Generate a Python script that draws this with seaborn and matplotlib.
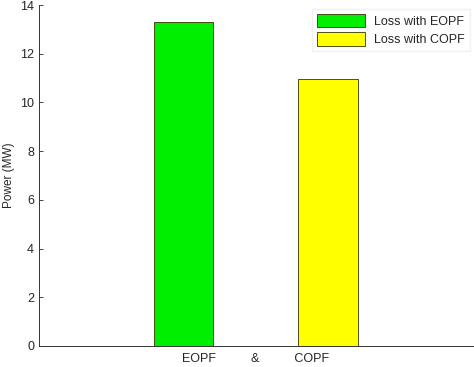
import matplotlib
matplotlib.use("Agg")
import matplotlib.pyplot as plt
import pandas as pd
import seaborn as sns

labels = ["Loss with EOPF", "Loss with COPF"]
values = [13.32, 10.95]
colors = ["#00ee00", "#ffff00"]
tick_text = "EOPF          &          COPF"

sns.set_style("white")
plt.rcParams["font.family"] = ["Liberation Sans", "DejaVu Sans"]

df = pd.DataFrame({"case": labels, "loss": values})

fig = plt.figure(figsize=(4.74, 3.67), dpi=100)
ax = fig.add_axes([39 / 474, 21 / 367, 1 - 39 / 474, 341 / 367])

sns.barplot(data=df, x="case", y="loss", hue="case", palette=colors, saturation=1,
            width=0.41, edgecolor="#333300", linewidth=0.6, legend=True, ax=ax)

ax.set_xlim(-1, 2.01)
ax.set_ylim(0, 14)
ax.set_yticks(range(0, 15, 2))
ax.set_xticks([0.5])
ax.set_xticklabels([tick_text], fontsize=9)
ax.tick_params(axis="x", length=0, pad=5)
ax.tick_params(axis="y", direction="in", length=3, labelsize=9, left=True, width=0.6)
ax.set_xlabel("")
ax.set_ylabel("Power (MW)", fontsize=8.5, labelpad=4)

for side in ["top", "right"]:
    ax.spines[side].set_visible(False)
for side in ["left", "bottom"]:
    ax.spines[side].set_color("#333333")
    ax.spines[side].set_linewidth(0.7)

ax.legend(loc="upper right", fontsize=9, frameon=True, fancybox=False,
          edgecolor="#eeeeee", handlelength=3.8, handleheight=1.3,
          borderaxespad=0.3, labelspacing=0.35, title=None)

fig.savefig("out.png", dpi=100)
